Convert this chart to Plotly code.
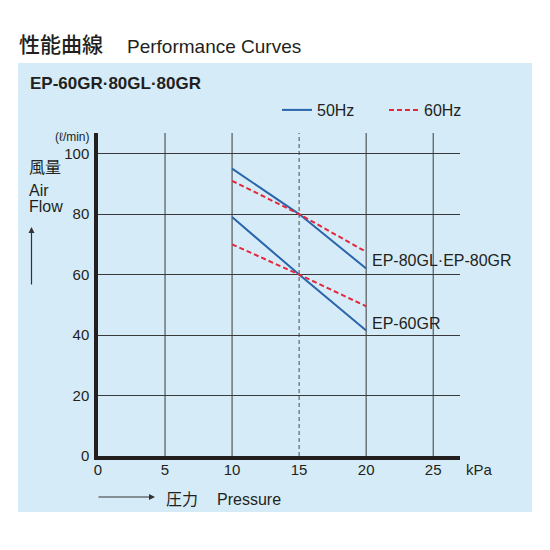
import plotly.graph_objects as go

# pressure (kPa) and air flow (l/min)
PRESSURE = [10, 15, 20]
EP80_50HZ = [95, 80, 62]
EP80_60HZ = [91, 80, 67.5]
EP60_50HZ = [79, 60, 41.5]
EP60_60HZ = [70, 60, 49.5]

X_TICKS = [0, 5, 10, 15, 20, 25]
Y_TICKS = [0, 20, 40, 60, 80, 100]
GRID_X = [5, 10, 20, 25]
RATED_X = 15

BLUE = '#2a64ab'
RED = '#e3273d'
INK = '#231f20'
PANEL = '#d5ecf8'
FONT = 'Liberation Sans, Arial, Noto Sans CJK JP, sans-serif'

# page body has an 8px margin, so the figure is drawn 8px smaller and shifted
OFF = 8
W, H = 550 - 2 * OFF, 550 - 2 * OFF
L, T = 98 - OFF, 133 - OFF
R, B = W - (460 - OFF), H - (456 - OFF)
PW, PH = W - L - R, H - T - B


def px(x):
	return (x - OFF - L) / PW


def py(y):
	return (H - B - (y - OFF)) / PH


fig = go.Figure()

series = [
	(EP80_50HZ, '50Hz', BLUE, 'solid', True),
	(EP80_60HZ, '60Hz', RED, '5px,3px', True),
	(EP60_50HZ, '50Hz', BLUE, 'solid', False),
	(EP60_60HZ, '60Hz', RED, '5px,3px', False),
]
for vals, name, color, dash, show in series:
	fig.add_trace(go.Scatter(
		x=PRESSURE, y=vals, mode='lines', name=name,
		legendgroup=name, showlegend=show,
		line=dict(color=color, width=2, dash=dash),
		hoverinfo='skip'
	))

shapes = [dict(type='rect', xref='paper', yref='paper', x0=px(18), x1=px(532),
			   y0=py(512), y1=py(63), fillcolor=PANEL, line=dict(width=0), layer='below')]
for gx in GRID_X:
	shapes.append(dict(type='line', xref='x', yref='paper', x0=gx, x1=gx, y0=0, y1=1,
					   line=dict(color='#3a3a3a', width=1), layer='below'))
shapes.append(dict(type='line', xref='x', yref='paper', x0=RATED_X, x1=RATED_X, y0=0, y1=1,
				   line=dict(color='#4a4a4a', width=1, dash='4px,3px'), layer='below'))


def note(text, x, y, size, anchor='left', weight='normal'):
	return dict(text=text, xref='paper', yref='paper', x=x, y=y, xanchor=anchor,
				yanchor='middle', showarrow=False,
				font=dict(size=size, color=INK, family=FONT, weight=weight))


annotations = [
	note('性能曲線', px(17), py(45), 21, weight=500),
	note('Performance Curves', px(125), py(46), 19),
	note('<b>EP-60GR·80GL·80GR</b>', px(28), py(83), 17),
	note('(ℓ/min)', px(92), py(137), 12, anchor='right'),
	note('風量', px(27), py(167), 16),
	note('Air', px(27), py(190), 16),
	note('Flow', px(27), py(206), 16),
	note('kPa', px(464), py(469), 15),
	note('圧力', px(164), py(499), 16),
	note('Pressure', px(215), py(499), 16),
	# axis arrows
	dict(text='', xref='paper', yref='paper', x=px(31.5), y=py(227), ax=0, ay=59,
		 showarrow=True, arrowhead=2, arrowsize=1, arrowwidth=1.2, arrowcolor='#333333'),
	dict(text='', xref='paper', yref='paper', x=px(155), y=py(497), ax=-58, ay=0,
		 showarrow=True, arrowhead=2, arrowsize=1, arrowwidth=1.2, arrowcolor='#333333'),
	# curve labels at the end of the 50Hz lines
	dict(text='EP-80GL·EP-80GR', x=PRESSURE[-1], y=EP80_50HZ[-1], xanchor='left', yanchor='middle',
		 xshift=4, yshift=8, showarrow=False, font=dict(size=16, color=INK, family=FONT)),
	dict(text='EP-60GR', x=PRESSURE[-1], y=EP60_50HZ[-1], xanchor='left', yanchor='middle',
		 xshift=4, yshift=7, showarrow=False, font=dict(size=16, color=INK, family=FONT)),
]

fig.update_layout(
	width=W, height=H,
	margin=dict(l=L, r=R, t=T, b=B),
	paper_bgcolor='white',
	plot_bgcolor='rgba(0,0,0,0)',
	font=dict(family=FONT, color=INK),
	shapes=shapes,
	annotations=annotations,
	xaxis=dict(range=[0, 27], tickvals=X_TICKS, showgrid=False, zeroline=False,
			   showline=True, linecolor=INK, linewidth=3.5, ticks='',
			   ticklabelstandoff=-3, tickfont=dict(size=15, color=INK)),
	yaxis=dict(range=[0, 106.8], tickvals=Y_TICKS, showgrid=True, gridcolor='#3a3a3a',
			   gridwidth=1, zeroline=False, showline=True, linecolor=INK, linewidth=3.5,
			   ticks='', ticklabelstandoff=2, tickfont=dict(size=15, color=INK)),
	legend=dict(orientation='h', x=px(277), y=py(110), xanchor='left', yanchor='middle',
				entrywidth=62, bgcolor='rgba(0,0,0,0)', font=dict(size=16, color=INK),
				itemclick=False),
	hovermode=False
)

fig.write_html('out.html')
